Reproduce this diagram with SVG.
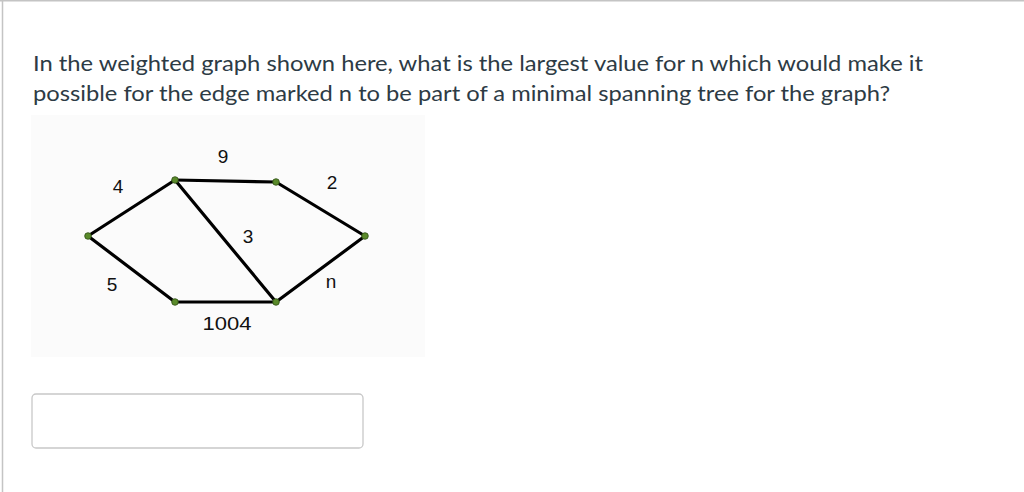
<svg xmlns="http://www.w3.org/2000/svg" width="1024" height="492" viewBox="0 0 1024 492">
<style>
.q{font-family:Lato,"Liberation Sans",sans-serif;font-size:21px;fill:#2d3b45}
.lbl{font-family:"Liberation Sans",Arial,sans-serif;font-size:19px;fill:#111;text-anchor:middle}
.edge{stroke:#000;stroke-width:3.2;stroke-linecap:round;fill:none}
.node{fill:#5a8a2a;stroke:#2f4f14;stroke-width:0.8}
</style>
<rect x="0" y="0" width="1024" height="492" fill="#fff"/>
<line x1="0" y1="0.75" x2="1024" y2="0.75" stroke="#c4c4c4" stroke-width="1.5"/>
<line x1="2.5" y1="0" x2="2.5" y2="492" stroke="#c4c4c4" stroke-width="1.5"/>
<text class="q" x="33" y="71" textLength="890" lengthAdjust="spacingAndGlyphs">In the weighted graph shown here, what is the largest value for n which would make it</text>
<text class="q" x="33" y="101" textLength="857" lengthAdjust="spacingAndGlyphs">possible for the edge marked n to be part of a minimal spanning tree for the graph?</text>
<rect x="31" y="115" width="394" height="242" fill="#fbfbfb"/>
<g id="connectors">
<line class="edge" x1="88" y1="236" x2="175" y2="180"/>
<line class="edge" x1="175" y1="180" x2="276" y2="182"/>
<line class="edge" x1="276" y1="182" x2="365" y2="236"/>
<line class="edge" x1="365" y1="236" x2="276" y2="302"/>
<line class="edge" x1="276" y1="302" x2="175" y2="302"/>
<line class="edge" x1="175" y1="302" x2="88" y2="236"/>
<line class="edge" x1="175" y1="180" x2="276" y2="302"/>
</g>
<g id="labels">
<text class="lbl" x="223" y="163">9</text>
<text class="lbl" x="118" y="193">4</text>
<text class="lbl" x="332" y="189">2</text>
<text class="lbl" x="248" y="243">3</text>
<text class="lbl" x="112" y="291">5</text>
<text class="lbl" x="331" y="288">n</text>
<text class="lbl" x="227" y="330" textLength="49" lengthAdjust="spacingAndGlyphs">1004</text>
</g>
<g id="nodeA"><circle class="node" cx="88" cy="236" r="3.3"/></g>
<g id="nodeB"><circle class="node" cx="175" cy="180" r="3.3"/></g>
<g id="nodeC"><circle class="node" cx="276" cy="182" r="3.3"/></g>
<g id="nodeD"><circle class="node" cx="365" cy="236" r="3.3"/></g>
<g id="nodeE"><circle class="node" cx="276" cy="302" r="3.3"/></g>
<g id="nodeF"><circle class="node" cx="175" cy="302" r="3.3"/></g>
<rect x="32" y="394" width="331" height="54" rx="4" fill="#fff" stroke="#c8c8c8" stroke-width="1.3"/>
</svg>
